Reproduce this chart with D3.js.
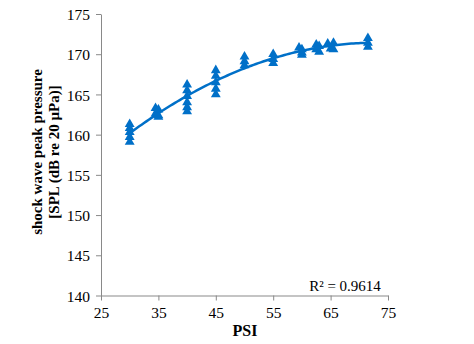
<!DOCTYPE html>
<html><head><meta charset="utf-8">
<script src="https://cdn.jsdelivr.net/npm/d3@7"></script>
<style>body{margin:0;background:#fff}svg{display:block}</style>
</head><body><svg id="c" width="474" height="344"></svg>
<script>
const psi = [30,30,30,30,30, 34.5,34.5,35,35,35, 40,40,40,40,40,40, 45,45,45,45,45, 50,50,50, 55,55,55, 59.5,60,60,60, 62.5,62.5,63,63, 64.5,65,65.5,65.5, 71.5,71.5,71.5];
const spl = [161.3,160.8,160.3,159.7,159.1, 163.3,162.6,163.1,162.4,162.2, 166.2,165.5,164.8,164.0,163.4,162.9, 168.0,167.3,166.5,165.7,165.0, 169.7,169.1,168.6, 170.0,169.4,168.9, 170.8,170.6,170.2,169.9, 171.2,170.6,171.0,170.3, 171.3,170.7,171.4,170.6, 172.0,171.4,170.9];
const xTicks = [25,35,45,55,65,75];
const yTicks = [140,145,150,155,160,165,170,175];
const r2Label = "R² = 0.9614";
const xTitle = "PSI";
const yTitle = ["shock wave peak pressure","[SPL (dB re 20 µPa)]"];

const svg = d3.select("#c");
const x = d3.scaleLinear().domain([25,75]).range([101,388]);
const y = d3.scaleLinear().domain([140,175]).range([295.5,14]);
const axisColor = "#898989";
const font = "'Liberation Serif','Times New Roman',serif";

const gx = svg.append("g").attr("transform","translate(0,295.5)")
  .call(d3.axisBottom(x).tickValues(xTicks).tickSize(5).tickSizeOuter(0).tickPadding(6));
const gy = svg.append("g").attr("transform","translate(101,0)")
  .call(d3.axisLeft(y).tickValues(yTicks).tickSize(5).tickSizeOuter(0).tickPadding(6));
[gx,gy].forEach(g=>{
  g.selectAll("path,line").attr("stroke",axisColor).attr("stroke-width",1);
  g.selectAll("text").attr("font-family",font).attr("font-size","15.5px").attr("fill","#000");
});
gy.selectAll("text").attr("dy","0.36em");

// quadratic least squares trendline
function fit2(xs, ys){
  let S=[0,0,0,0,0], T=[0,0,0];
  xs.forEach((xv,i)=>{const yv=ys[i];let p=1;for(let k=0;k<5;k++){S[k]+=p; if(k<3)T[k]+=p*yv; p*=xv;}});
  const A=[[S[0],S[1],S[2],T[0]],[S[1],S[2],S[3],T[1]],[S[2],S[3],S[4],T[2]]];
  for(let i=0;i<3;i++){for(let j=i+1;j<3;j++){const f=A[j][i]/A[i][i];for(let k=i;k<4;k++)A[j][k]-=f*A[i][k];}}
  const c=[0,0,0];
  for(let i=2;i>=0;i--){let s=A[i][3];for(let k=i+1;k<3;k++)s-=A[i][k]*c[k];c[i]=s/A[i][i];}
  return c;
}
const c = fit2(psi, spl);
const xmin = d3.min(psi), xmax = d3.max(psi);
const linePts = d3.range(0,101).map(i=>{const xv=xmin+(xmax-xmin)*i/100;return [xv,c[0]+c[1]*xv+c[2]*xv*xv];});

const blue = "#0070C8";
const tri = d3.symbol().type(d3.symbolTriangle).size(42);
svg.append("g").selectAll("path").data(psi.map((p,i)=>[p,spl[i]])).join("path")
  .attr("d",tri).attr("transform",d=>`translate(${x(d[0])},${y(d[1])})`).attr("fill",blue);

svg.append("path").datum(linePts)
  .attr("d",d3.line().x(d=>x(d[0])).y(d=>y(d[1])).curve(d3.curveLinear))
  .attr("fill","none").attr("stroke",blue).attr("stroke-width",2.5);

svg.append("text").attr("x",345).attr("y",291).attr("text-anchor","middle")
  .attr("font-family",font).attr("font-size","15px").text(r2Label);
svg.append("text").attr("x",245).attr("y",336).attr("text-anchor","middle")
  .attr("font-family",font).attr("font-size","16px").attr("font-weight","bold").text(xTitle);
const yt = svg.append("text").attr("transform","translate(0,152) rotate(-90)")
  .attr("text-anchor","middle").attr("font-family",font).attr("font-size","15px").attr("font-weight","bold");
yt.append("tspan").attr("x",0).attr("y",42).text(yTitle[0]);
yt.append("tspan").attr("x",0).attr("y",59).text(yTitle[1]);
</script></body></html>
